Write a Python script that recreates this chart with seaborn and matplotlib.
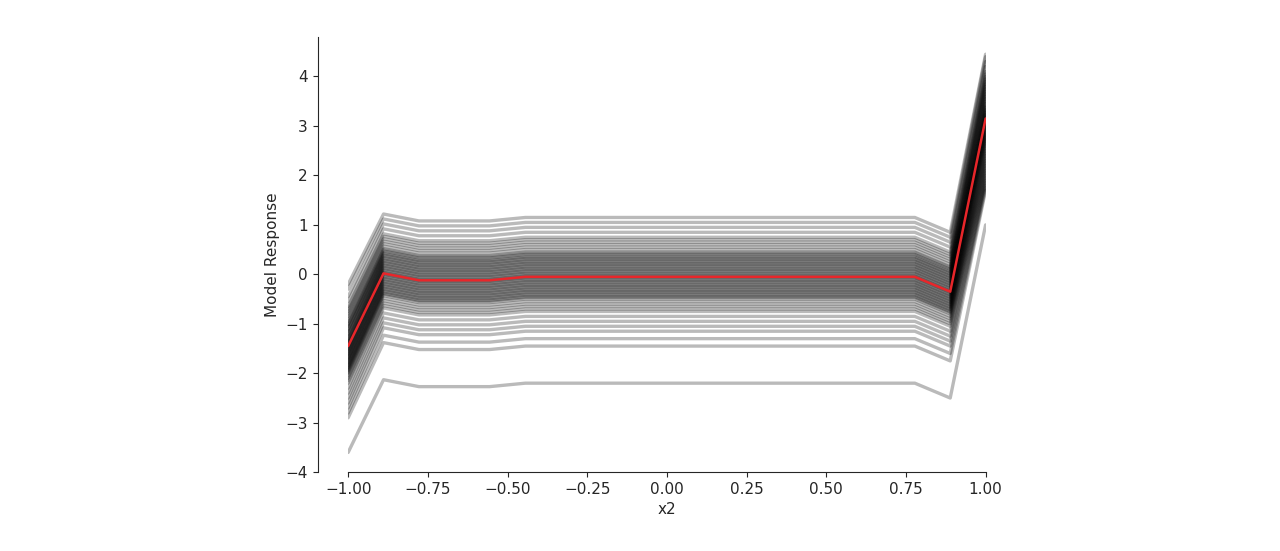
import numpy as np
import pandas as pd
import matplotlib
matplotlib.use("Agg")
import matplotlib.pyplot as plt
import seaborn as sns

# grid of x2 values where the model was evaluated
x_grid = [-1.0, -0.889, -0.778, -0.556, -0.444, 0.778, 0.889, 1.0]

# mean response (red line)
mean_resp = [-1.45, 0.02, -0.12, -0.12, -0.05, -0.05, -0.35, 3.15]

# individual curves: level on the plateau relative to the mean, start and end values
curve_level = [1.2, 1.1, 1.0, 0.9, 0.8, 0.75, 0.7, 0.65, 0.6, 0.55, 0.5, 0.48, 0.45,
               0.42, 0.4, 0.37, 0.35, 0.32, 0.3, 0.27, 0.25, 0.22, 0.2, 0.17, 0.15,
               0.12, 0.1, 0.07, 0.05, 0.02, 0.0, -0.02, -0.05, -0.07, -0.1, -0.12,
               -0.15, -0.17, -0.2, -0.22, -0.25, -0.27, -0.3, -0.32, -0.35, -0.37,
               -0.4, -0.42, -0.45, -0.5, -0.55, -0.6, -0.65, -0.7, -0.8, -0.9,
               -1.0, -1.1, -1.25, -1.4, -2.15]
curve_start = [-0.2, -0.3, -0.45, -0.55, -0.65, -0.7, -0.75, -0.8, -0.85, -0.9,
               -0.95, -1.0, -1.02, -1.05, -1.1, -1.12, -1.15, -1.2, -1.22, -1.25,
               -1.3, -1.32, -1.35, -1.38, -1.4, -1.42, -1.45, -1.47, -1.5, -1.52,
               -1.55, -1.57, -1.6, -1.62, -1.65, -1.68, -1.7, -1.72, -1.75, -1.78,
               -1.8, -1.83, -1.85, -1.88, -1.9, -1.93, -1.95, -1.98, -2.0, -2.05,
               -2.1, -2.15, -2.2, -2.3, -2.4, -2.5, -2.6, -2.7, -2.8, -2.9, -3.6]
curve_end = [4.45, 4.4, 4.3, 4.2, 4.1, 4.05, 4.0, 3.95, 3.9, 3.85, 3.8, 3.75, 3.7,
             3.65, 3.6, 3.55, 3.5, 3.45, 3.4, 3.37, 3.33, 3.3, 3.27, 3.23, 3.2,
             3.17, 3.13, 3.1, 3.07, 3.03, 3.0, 2.97, 2.93, 2.9, 2.87, 2.83, 2.8,
             2.77, 2.73, 2.7, 2.65, 2.6, 2.55, 2.5, 2.45, 2.4, 2.35, 2.3, 2.25,
             2.2, 2.15, 2.1, 2.05, 2.0, 1.95, 1.9, 1.85, 1.8, 1.75, 1.7, 1.0]

rows = []
for i, (lv, s, e) in enumerate(zip(curve_level, curve_start, curve_end)):
    ys = [s] + [m + lv for m in mean_resp[1:-1]] + [e]
    for x, y in zip(x_grid, ys):
        rows.append({"curve": i, "x2": x, "Model Response": y})
ice = pd.DataFrame(rows)
mean_df = pd.DataFrame({"x2": x_grid, "Model Response": mean_resp})

sns.set_style("ticks")
fig = plt.figure(figsize=(12.8, 5.51), dpi=100)
ax = fig.add_axes([0.272, 0.143, 0.498, 0.79])

sns.lineplot(data=ice, x="x2", y="Model Response", units="curve", estimator=None,
             color="black", alpha=0.27, linewidth=2.4, ax=ax)
sns.lineplot(data=mean_df, x="x2", y="Model Response", color="#e8262a",
             linewidth=1.8, ax=ax)

ax.set_xlim(-1, 1)
ax.set_ylim(-4, 4.8)
ax.set_yticks([-4, -3, -2, -1, 0, 1, 2, 3, 4])
ax.set_xticks([-1.0, -0.75, -0.5, -0.25, 0.0, 0.25, 0.5, 0.75, 1.0])
ax.set_xticklabels([f"{v:.2f}".replace("-", "\u2212") for v in ax.get_xticks()])
sns.despine(ax=ax)
ax.spines["left"].set_position(("outward", 22))
ax.tick_params(labelsize=11)
ax.set_xlabel("x2", fontsize=11)
ax.set_ylabel("Model Response", fontsize=11)

fig.savefig("out.png", dpi=100)
